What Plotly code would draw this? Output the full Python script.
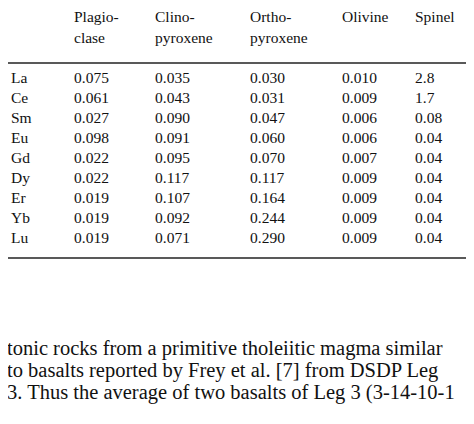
import plotly.graph_objects as go

elements = ['La', 'Ce', 'Sm', 'Eu', 'Gd', 'Dy', 'Er', 'Yb', 'Lu']
headers = [('Plagio-', 'clase'), ('Clino-', 'pyroxene'), ('Ortho-', 'pyroxene'), ('Olivine', ''), ('Spinel', '')]
plagioclase = ['0.075', '0.061', '0.027', '0.098', '0.022', '0.022', '0.019', '0.019', '0.019']
clinopyroxene = ['0.035', '0.043', '0.090', '0.091', '0.095', '0.117', '0.107', '0.092', '0.071']
orthopyroxene = ['0.030', '0.031', '0.047', '0.060', '0.070', '0.117', '0.164', '0.244', '0.290']
olivine = ['0.010', '0.009', '0.006', '0.006', '0.007', '0.009', '0.009', '0.009', '0.009']
spinel = ['2.8', '1.7', '0.08', '0.04', '0.04', '0.04', '0.04', '0.04', '0.04']
body_lines = [
    'tonic rocks from a primitive tholeiitic magma similar',
    'to basalts reported by Frey et al. [7] from DSDP Leg',
    '3. Thus the average of two basalts of Leg 3 (3-14-10-1',
]

col_x = [66, 147, 242, 334, 407]
row_y0, row_dy = 71, 20
font = dict(family='Liberation Serif', size=15.5, color='#111')

fig = go.Figure()
cols = [plagioclase, clinopyroxene, orthopyroxene, olivine, spinel]
ys = [row_y0 + i * row_dy for i in range(len(elements))]
fig.add_trace(go.Scatter(x=[3] * len(elements), y=ys, text=elements, mode='text',
                         textposition='middle right', textfont=font))
for cx, vals in zip(col_x, cols):
    fig.add_trace(go.Scatter(x=[cx] * len(vals), y=ys, text=vals, mode='text',
                             textposition='middle right', textfont=font))
for cx, (h1, h2) in zip(col_x, headers):
    fig.add_trace(go.Scatter(x=[cx, cx], y=[10, 31], text=[h1, h2], mode='text',
                             textposition='middle right', textfont=font))
fig.add_trace(go.Scatter(x=[-1] * len(body_lines), y=[342, 364, 386], text=body_lines,
                         mode='text', textposition='middle right',
                         textfont=dict(family='Liberation Serif', size=20.5, color='#111')))

for y in (55, 250):
    fig.add_shape(type='line', x0=0, x1=474, y0=y, y1=y, line=dict(color='#222', width=1.3))

fig.update_layout(
    width=474, height=424, margin=dict(l=0, r=0, t=0, b=0),
    paper_bgcolor='white', plot_bgcolor='white', showlegend=False,
    xaxis=dict(range=[0, 474], visible=False, fixedrange=True),
    yaxis=dict(range=[424, 0], visible=False, fixedrange=True),
)
fig.write_html('out.html')
